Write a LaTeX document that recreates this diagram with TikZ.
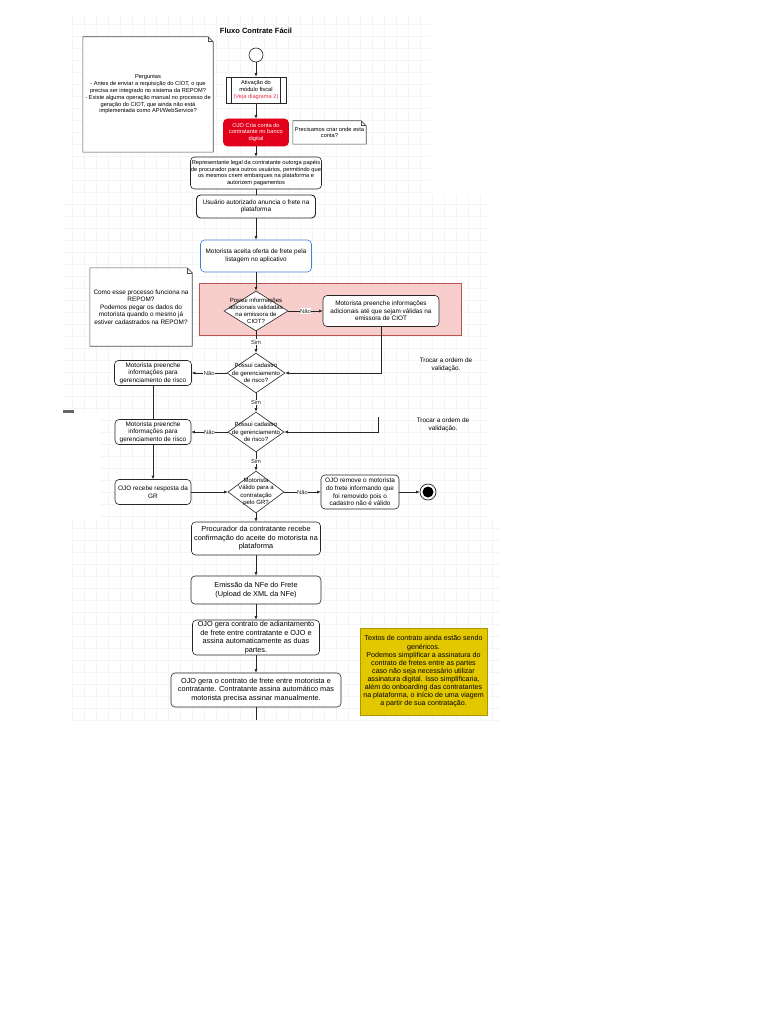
\documentclass[tikz,border=0pt]{standalone}
\usepackage{fontspec}
\setmainfont{Liberation Sans}
\usetikzlibrary{arrows.meta,shapes.geometric,positioning}
\definecolor{ojored}{RGB}{226,0,26}
\definecolor{pinkfill}{RGB}{248,206,204}
\definecolor{pinkline}{RGB}{184,84,80}
\definecolor{notefill}{RGB}{227,200,0}
\definecolor{noteline}{RGB}{176,149,0}
\definecolor{selblue}{RGB}{60,130,210}
\newcommand\fsm{\fontsize{5.7}{6.8}\selectfont}
\newcommand\fmd{\fontsize{6.4}{7.6}\selectfont}
\newcommand\fdi{\fontsize{6}{7.2}\selectfont}
\newcommand\fbg{\fontsize{7.3}{8.5}\selectfont}

\begin{document}
\begin{tikzpicture}[x=1pt, y=-1pt,
  every node/.style={font=\fsm, inner sep=0pt, align=center},
  box/.style={draw=black!85, fill=white, rounded corners=4pt, line width=0.6pt},
  note/.style={fill=white},
  decision/.style={diamond, draw=black!85, fill=white, line width=0.6pt, inner sep=0pt},
  flow/.style={-{Latex[length=3.5pt,width=3pt]}, line width=0.6pt, black!85},
  line/.style={line width=0.6pt, black!85},
  lbl/.style={fill=white, inner sep=0.6pt, font=\fontsize{5.8}{6.5}\selectfont},
  gridline/.style={black!4, line width=0.3pt},
]

%% ── Page and grid panels ───────────────────────────────────────────────
\fill[white] (0,0) rectangle (768,1024);
\useasboundingbox (0,0) rectangle (768,1024);
\foreach \xa/\ya/\xb/\yb in {70/15/430/195, 62/195/490/412, 100/412/490/520, 70/520/500/720}
  \draw[gridline] (\xa,\ya) grid[step=12pt] (\xb,\yb);
\fill[black!60] (63,410) rectangle (74,413);

%% ── Top part ───────────────────────────────────────────────────────────
\node[font=\bfseries\fontsize{7.5}{8.5}\selectfont] (title) at (256,31) {Fluxo Contrate Fácil};
\node[circle, draw=black!85, line width=0.6pt, fill=white, minimum size=14] (inicio) at (256,55) {};
\node[box, rounded corners=0pt, minimum width=60, minimum height=26] (fiscal) at (256,90)
  {Ativação do\\módulo fiscal\\\textcolor{ojored!80}{(Veja diagrama 2)}};
\draw[line] ([xshift=6pt]fiscal.north west) -- ([xshift=6pt]fiscal.south west);
\draw[line] ([xshift=-6pt]fiscal.north east) -- ([xshift=-6pt]fiscal.south east);
\node[box, draw=ojored, fill=ojored, text=white, minimum width=65, minimum height=27] (conta) at (256,132.5)
  {OJO Cria conta do\\contratante no banco\\digital};
\node[note, minimum width=73, minimum height=23] (nConta) at (329.5,132.5)
  {Precisamos criar onde esta\\conta?};
\node[note, minimum width=130, minimum height=115] (nPerg) at (148,94.5)
  {Perguntas\\- Antes de enviar a requisição do CIOT, o que\\precisa ser integrado no sistema da REPOM?\\- Existe alguma operação manual no processo de\\geração do CIOT, que ainda não está\\implementada como API/WebService?};
\node[box, minimum width=131, minimum height=32] (repres) at (256,173)
  {Representante legal da contratante outorga papéis\\de procurador para outros usuários, permitindo que\\os mesmos criem embarques na plataforma e\\autorizem pagamentos};
\node[box, line width=0.9pt, minimum width=119, minimum height=23, font=\fmd] (anuncia) at (256,206.5)
  {Usuário autorizado anuncia o frete na\\plataforma};
\node[box, draw=selblue, minimum width=111, minimum height=32, font=\fmd] (aceita) at (256,256)
  {Motorista aceita oferta de frete pela\\listagem no aplicativo};

%% ── Validation part ────────────────────────────────────────────────────
\node[draw=pinkline, fill=pinkfill, line width=0.6pt, minimum width=262, minimum height=52] (band) at (330,309) {};
\node[decision, minimum width=64, minimum height=40] (dInfo) at (256,311) {};
\node[font=\fdi] (dInfoT) at (dInfo) {Possui informações\\adicionais validadas\\na emissora de\\CIOT?};
\node[box, minimum width=116, minimum height=31, font=\fmd] (preInfo) at (381,311)
  {Motorista preenche informações\\adicionais até que sejam válidas na\\emissora de CIOT};
\node[note, minimum width=102, minimum height=78, font=\fmd] (nRepom) at (141,307)
  {Como esse processo funciona na\\REPOM?\\Podemos pegar os dados do\\motorista quando o mesmo já\\estiver cadastrados na REPOM?};

\node[decision, minimum width=58, minimum height=40] (dRisco) at (256,373) {};
\node[font=\fdi] (dRiscoT) at (dRisco) {Possui cadastro\\de gerenciamento\\de risco?};
\node[box, minimum width=77, minimum height=25, font=\fmd] (preGR) at (153,373)
  {Motorista preenche\\informações para\\gerenciamento de risco};
\node[font=\fmd] (trocaA) at (446,365) {Trocar a ordem de\\validação.};

\node[decision, minimum width=56, minimum height=40] (dRisco2) at (256,432) {};
\node[font=\fdi] (dRisco2T) at (dRisco2) {Possui cadastro\\de gerenciamento\\de risco?};
\node[box, minimum width=76, minimum height=25, font=\fmd] (preGR2) at (153,432)
  {Motorista preenche\\informações para\\gerenciamento de risco};
\node[font=\fmd] (trocaB) at (443,425) {Trocar a ordem de\\validação.};
\coordinate (seam) at (378,417);

\node[box, minimum width=76, minimum height=25, font=\fmd] (respGR) at (153,492)
  {OJO recebe resposta da\\GR};
\node[decision, minimum width=56, minimum height=42] (dValido) at (256,492) {};
\node[font=\fdi] (dValidoT) at (dValido) {Motorista\\Válido para a\\contratação\\pelo GR?};
\node[box, minimum width=78, minimum height=34, font=\fmd] (remove) at (360,492)
  {OJO remove o motorista\\do frete informando que\\foi removido pois o\\cadastro não é válido};
\node[circle, draw=black!85, line width=0.7pt, fill=white, minimum size=16] (fim) at (428,492) {};
\node[circle, fill=black, minimum size=11] (fimIn) at (fim) {};

%% ── Contract part ──────────────────────────────────────────────────────
\node[box, minimum width=129, minimum height=33, font=\fbg] (procur) at (256,538.5)
  {Procurador da contratante recebe\\confirmação do aceite do motorista na\\plataforma};
\node[box, minimum width=130, minimum height=28, font=\fbg] (nfe) at (256,590)
  {Emissão da NFe do Frete\\(Upload de XML da NFe)};
\node[box, minimum width=127, minimum height=35, font=\fbg] (adiant) at (256,637.5)
  {OJO gera contrato de adiantamento\\de frete entre contratante e OJO e\\assina automaticamente as duas\\partes.};
\node[box, minimum width=170, minimum height=34, font=\fbg] (contrato) at (256,690)
  {OJO gera o contrato de frete entre motorista e\\contratante. Contratante assina automático mas\\motorista precisa assinar manualmente.};
\coordinate (fimSeta) at (256,720);
\node[draw=noteline, fill=notefill, line width=0.6pt, minimum width=127, minimum height=87,
      font=\fontsize{7.1}{8.1}\selectfont] (nTextos) at (423.5,671.5)
  {Textos de contrato ainda estão sendo\\genéricos.\\Podemos simplificar a assinatura do\\contrato de fretes entre as partes\\caso não seja necessário utilizar\\assinatura digital. Isso simplificaria,\\além do onboarding das contratantes\\na plataforma, o início de uma viagem\\a partir de sua contratação.};

%% ── Folded note outlines ───────────────────────────────────────────────
\foreach \n in {nPerg, nConta, nRepom} {
  \draw[line, black!70] (\n.north west) -- ([xshift=-5pt]\n.north east) -- ([yshift=-5pt]\n.north east)
    -- (\n.south east) -- (\n.south west) -- cycle;
  \draw[line, black!70] ([xshift=-5pt]\n.north east) -- ([xshift=-5pt,yshift=-5pt]\n.north east)
    -- ([yshift=-5pt]\n.north east);
}

%% ── Connectors ─────────────────────────────────────────────────────────
\draw[flow] (inicio) -- (fiscal);
\draw[flow] (fiscal) -- (conta);
\draw[flow] (conta) -- (repres);
\draw[line] (repres) -- (anuncia);
\draw[flow] (anuncia) -- (aceita);
\draw[flow] (aceita) -- (dInfo);
\draw[flow] (dInfo) -- node[lbl]{Não} (preInfo);
\draw[flow] (preInfo.south) |- (dRisco.east);
\draw[flow] (dInfo) -- node[lbl]{Sim} (dRisco);
\draw[flow] (dRisco) -- node[lbl]{Não} (preGR);
\draw[line] (preGR) -- (preGR2);
\draw[flow] (dRisco) -- node[lbl]{Sim} (dRisco2);
\draw[flow] (seam) |- (dRisco2.east);
\draw[flow] (dRisco2) -- node[lbl]{Não} (preGR2);
\draw[flow] (preGR2) -- (respGR);
\draw[flow] (respGR) -- (dValido);
\draw[flow] (dRisco2) -- node[lbl]{Sim} (dValido);
\draw[flow] (dValido) -- node[lbl]{Não} (remove);
\draw[flow] (remove) -- (fim);
\draw[flow] (dValido) -- (procur);
\draw[flow] (procur) -- (nfe);
\draw[flow] (nfe) -- (adiant);
\draw[flow] (adiant) -- (contrato);
\draw[line] (contrato) -- (fimSeta);

\end{tikzpicture}
\end{document}
